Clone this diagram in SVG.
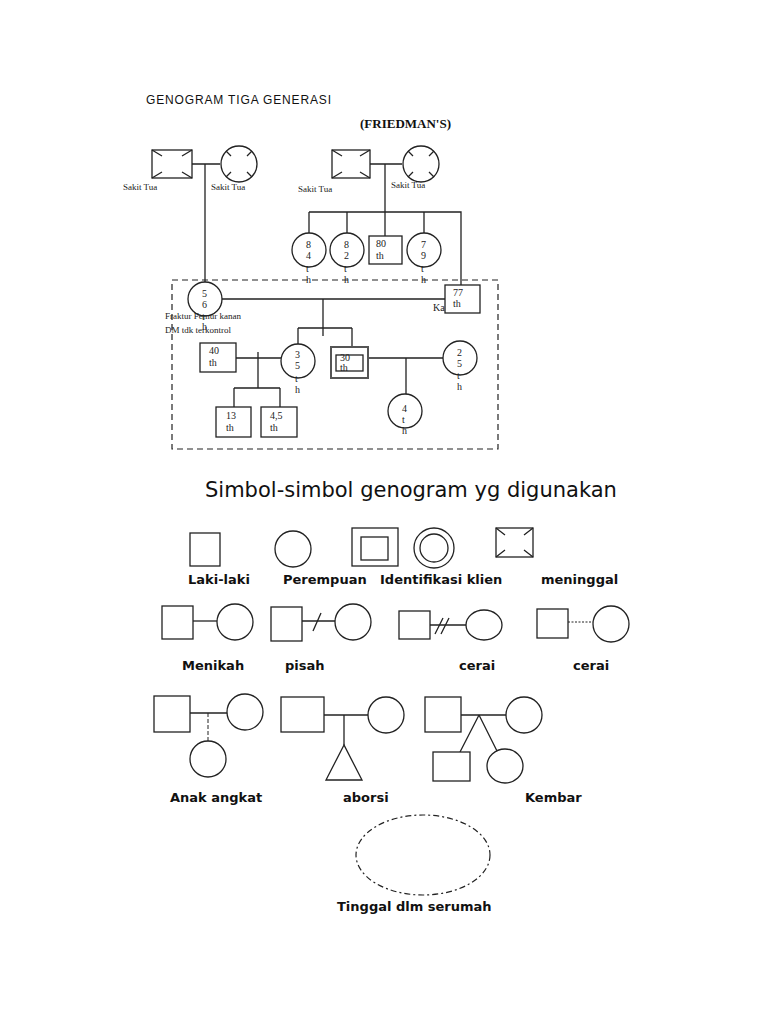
<svg xmlns="http://www.w3.org/2000/svg" width="768" height="1024" viewBox="0 0 768 1024">
<style>
.s{fill:#fff;stroke:#222;stroke-width:1.3}
.l{fill:none;stroke:#222;stroke-width:1.3}
.t{font-family:"Liberation Serif",serif;font-size:9px;fill:#222}
.n{font-family:"Liberation Serif",serif;font-size:10px;fill:#222}
.c{font-family:"DejaVu Sans",sans-serif;font-size:13px;fill:#111;font-weight:bold}
</style>
<rect width="768" height="1024" fill="#fff"/>
<text x="146" y="104" font-family="Liberation Sans Narrow,Liberation Sans,sans-serif" font-size="12" fill="#111" textLength="185">GENOGRAM TIGA GENERASI</text>
<text x="360" y="128" font-family="Liberation Serif,serif" font-size="13" font-weight="bold" fill="#111">(FRIEDMAN'S)</text>
<g id="connectors">
<path class="l" d="M192 164H220M205 164V282M370 164H402M385 164V236M309 212H461V285M309 212V233M347 212V233M424 212V233M222 299H445M323 299V328M298 328H352M323 328V336M298 328V344M352 328V347M236 358H281M258 352V388M234 388H280M234 388V407M280 388V407M368 358H443M406 358V394"/>
<rect x="172" y="280" width="326" height="169" fill="none" stroke="#222" stroke-width="1.2" stroke-dasharray="6,4"/>
</g>
<g id="gf1"><rect class="s" x="152" y="150" width="40" height="28"/><path class="l" d="M152 150l10 6M192 150l-10 6M152 178l10-6M192 178l-10-6"/><text class="t" x="123" y="190">Sakit Tua</text></g>
<g id="gm1"><circle class="s" cx="239" cy="164" r="18"/><path class="l" d="M226 151l5 5M252 151l-5 5M226 177l5-5M252 177l-5-5"/><text class="t" x="211" y="190">Sakit Tua</text></g>
<g id="gf2"><rect class="s" x="332" y="150" width="38" height="28"/><path class="l" d="M332 150l10 6M370 150l-10 6M332 178l10-6M370 178l-10-6"/><text class="t" x="298" y="192">Sakit Tua</text></g>
<g id="gm2"><circle class="s" cx="421" cy="164" r="18"/><path class="l" d="M408 151l5 5M434 151l-5 5M408 177l5-5M434 177l-5-5"/><text class="t" x="391" y="188">Sakit Tua</text></g>
<g id="a84"><circle class="s" cx="309" cy="250" r="17"/><text class="n" x="306" y="248">8</text><text class="n" x="306" y="259">4</text><text class="n" x="306" y="272">t</text><text class="n" x="306" y="283">h</text></g>
<g id="a82"><circle class="s" cx="347" cy="250" r="17"/><text class="n" x="344" y="248">8</text><text class="n" x="344" y="259">2</text><text class="n" x="344" y="272">t</text><text class="n" x="344" y="283">h</text></g>
<g id="a80"><rect class="s" x="369" y="236" width="33" height="28"/><text class="n" x="376" y="247">80</text><text class="n" x="376" y="259">th</text></g>
<g id="a79"><circle class="s" cx="424" cy="250" r="17"/><text class="n" x="421" y="248">7</text><text class="n" x="421" y="259">9</text><text class="n" x="421" y="272">t</text><text class="n" x="421" y="283">h</text></g>
<g id="p56"><circle class="s" cx="205" cy="299" r="17"/><text class="n" x="202" y="297">5</text><text class="n" x="202" y="308">6</text><text class="n" x="202" y="320">t</text><text class="n" x="202" y="330">h</text><text class="t" x="165" y="319">Fraktur Femur kanan</text><text class="t" x="165" y="333">DM tdk terkontrol</text></g>
<g id="p77"><rect class="s" x="445" y="285" width="35" height="28"/><text class="n" x="453" y="296">77</text><text class="n" x="453" y="307">th</text><text class="n" x="433" y="311">Ka</text></g>
<g id="c35"><circle class="s" cx="298" cy="361" r="17"/><text class="n" x="295" y="358">3</text><text class="n" x="295" y="369">5</text><text class="n" x="295" y="382">t</text><text class="n" x="295" y="393">h</text></g>
<g id="c30"><rect x="331" y="347" width="37" height="31" fill="#fff" stroke="#555" stroke-width="2"/><rect class="s" x="336" y="355" width="27" height="16"/><text class="n" x="340" y="361">30</text><text class="n" x="340" y="371">th</text></g>
<g id="s40"><rect class="s" x="200" y="343" width="36" height="29"/><text class="n" x="209" y="354">40</text><text class="n" x="209" y="366">th</text></g>
<g id="w25"><circle class="s" cx="460" cy="358" r="17"/><text class="n" x="457" y="356">2</text><text class="n" x="457" y="367">5</text><text class="n" x="457" y="379">t</text><text class="n" x="457" y="390">h</text></g>
<g id="g13"><rect class="s" x="216" y="407" width="35" height="30"/><text class="n" x="226" y="419">13</text><text class="n" x="226" y="431">th</text></g>
<g id="g45"><rect class="s" x="261" y="407" width="36" height="30"/><text class="n" x="270" y="419">4,5</text><text class="n" x="270" y="431">th</text></g>
<g id="g4"><circle class="s" cx="405" cy="411" r="17"/><text class="n" x="402" y="412">4</text><text class="n" x="402" y="423">t</text><text class="n" x="402" y="434">h</text></g>

<text x="205" y="497" font-family="DejaVu Sans,sans-serif" font-size="21" fill="#111">Simbol-simbol genogram yg digunakan</text>
<g id="sym1">
<rect class="s" x="190" y="533" width="30" height="33"/>
<circle class="s" cx="293" cy="549" r="18"/>
<rect class="s" x="352" y="528" width="46" height="38"/><rect class="s" x="361" y="537" width="27" height="23"/>
<circle class="s" cx="434" cy="548" r="20"/><circle class="s" cx="434" cy="548" r="14"/>
<rect class="s" x="496" y="528" width="37" height="29"/><path class="l" d="M496 528l9 7M533 528l-9 7M496 557l9-7M533 557l-9-7"/>
<text class="c" x="188" y="584">Laki-laki</text><text class="c" x="283" y="584">Perempuan</text><text class="c" x="380" y="584">Identifikasi klien</text><text class="c" x="541" y="584">meninggal</text>
</g>
<g id="sym2">
<rect class="s" x="162" y="606" width="31" height="33"/><line class="l" x1="193" y1="621" x2="217" y2="621"/><circle class="s" cx="235" cy="622" r="18"/>
<rect class="s" x="271" y="607" width="31" height="34"/><line class="l" x1="302" y1="621" x2="335" y2="621"/><line class="l" x1="313" y1="631" x2="321" y2="613"/><circle class="s" cx="353" cy="622" r="18"/>
<rect class="s" x="399" y="611" width="31" height="28"/><line class="l" x1="430" y1="625" x2="466" y2="625"/><path class="l" d="M435 634l8-16M441 634l8-16"/><ellipse class="s" cx="484" cy="625" rx="18" ry="15"/>
<rect class="s" x="537" y="609" width="31" height="29"/><line x1="568" y1="622" x2="593" y2="622" stroke="#222" stroke-dasharray="2,1.5"/><circle class="s" cx="611" cy="624" r="18"/>
<text class="c" x="182" y="670">Menikah</text><text class="c" x="285" y="670">pisah</text><text class="c" x="459" y="670">cerai</text><text class="c" x="573" y="670">cerai</text>
</g>
<g id="sym3">
<rect class="s" x="154" y="696" width="36" height="36"/><line class="l" x1="190" y1="713" x2="228" y2="713"/><circle class="s" cx="245" cy="712" r="18"/><line x1="208" y1="713" x2="208" y2="741" stroke="#222" stroke-dasharray="4,2"/><circle class="s" cx="208" cy="759" r="18"/>
<rect class="s" x="281" y="697" width="43" height="35"/><line class="l" x1="324" y1="715" x2="368" y2="715"/><line class="l" x1="344" y1="715" x2="344" y2="745"/><polygon class="s" points="344,745 326,780 362,780"/><circle class="s" cx="386" cy="715" r="18"/>
<rect class="s" x="425" y="697" width="36" height="35"/><line class="l" x1="461" y1="715" x2="506" y2="715"/><path class="l" d="M479 715L460 752M479 715L497 751"/><circle class="s" cx="524" cy="715" r="18"/><rect class="s" x="433" y="752" width="37" height="29"/><ellipse class="s" cx="505" cy="766" rx="18" ry="17"/>
<text class="c" x="170" y="802">Anak angkat</text><text class="c" x="343" y="802">aborsi</text><text class="c" x="525" y="802">Kembar</text>
</g>
<g id="sym4">
<ellipse cx="423" cy="855" rx="67" ry="40" fill="none" stroke="#222" stroke-width="1.2" stroke-dasharray="6,3,2,3"/>
<text class="c" x="337" y="911">Tinggal dlm serumah</text>
</g>
</svg>
